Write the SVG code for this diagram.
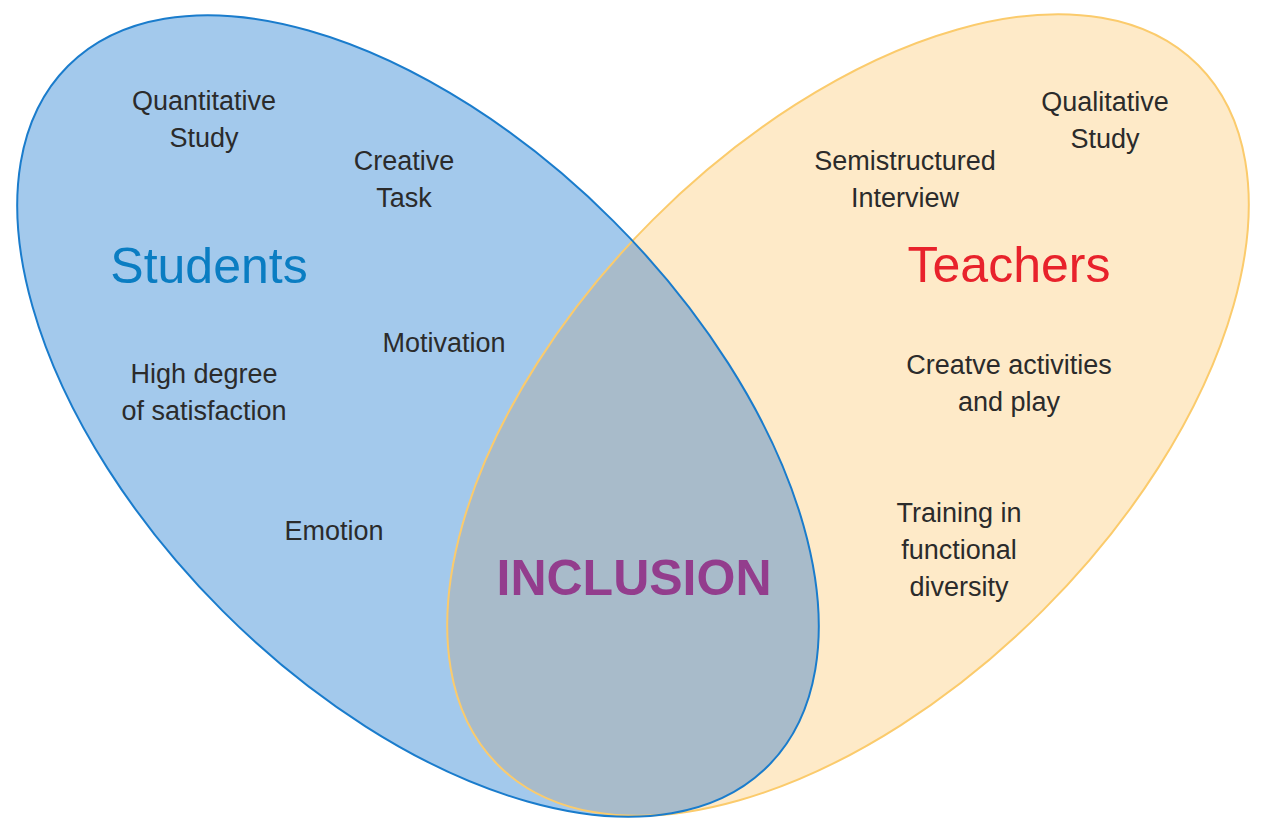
<svg xmlns="http://www.w3.org/2000/svg" width="1266" height="827" viewBox="0 0 1266 827">
<defs>
<clipPath id="cb"><ellipse cx="0" cy="0" rx="495" ry="276" transform="translate(418,416) rotate(45)"/></clipPath>
<style>
.t{font-family:"Liberation Sans",Arial,sans-serif;font-size:27px;fill:#2b2b2b;text-anchor:middle}
.h{font-family:"Liberation Sans",Arial,sans-serif;font-size:50px;text-anchor:middle}
</style>
</defs>
<rect width="1266" height="827" fill="#fff"/>
<g id="students-set"><ellipse cx="0" cy="0" rx="495" ry="276" transform="translate(418,416) rotate(45)" fill="#a3c9ec"/></g>
<g id="teachers-set"><ellipse cx="0" cy="0" rx="495" ry="276" transform="translate(848,415) rotate(-45)" fill="#feeac8"/></g>
<g id="overlap" clip-path="url(#cb)"><ellipse cx="0" cy="0" rx="495" ry="276" transform="translate(848,415) rotate(-45)" fill="#a8bbca"/></g>
<g id="outlines" fill="none" stroke-width="2">
<ellipse cx="0" cy="0" rx="495" ry="276" transform="translate(848,415) rotate(-45)" stroke="#fbcb6c"/>
<ellipse cx="0" cy="0" rx="495" ry="276" transform="translate(418,416) rotate(45)" stroke="#1a7ccc"/>
</g>
<g id="labels">
<text class="t" x="204" y="110">Quantitative</text><text class="t" x="204" y="147">Study</text>
<text class="t" x="404" y="170">Creative</text><text class="t" x="404" y="207">Task</text>
<text class="h" x="209" y="283" fill="#0a7dc2">Students</text>
<text class="t" x="444" y="352">Motivation</text>
<text class="t" x="204" y="383">High degree</text><text class="t" x="204" y="420">of satisfaction</text>
<text class="t" x="334" y="540">Emotion</text>
<text class="h" x="634" y="595" fill="#933d8d" font-weight="bold">INCLUSION</text>
<text class="t" x="1105" y="111">Qualitative</text><text class="t" x="1105" y="148">Study</text>
<text class="t" x="905" y="170">Semistructured</text><text class="t" x="905" y="207">Interview</text>
<text class="h" x="1009" y="282" fill="#e8222b">Teachers</text>
<text class="t" x="1009" y="374">Creatve activities</text><text class="t" x="1009" y="411">and play</text>
<text class="t" x="959" y="522">Training in</text><text class="t" x="959" y="559">functional</text><text class="t" x="959" y="596">diversity</text>
</g>
</svg>
